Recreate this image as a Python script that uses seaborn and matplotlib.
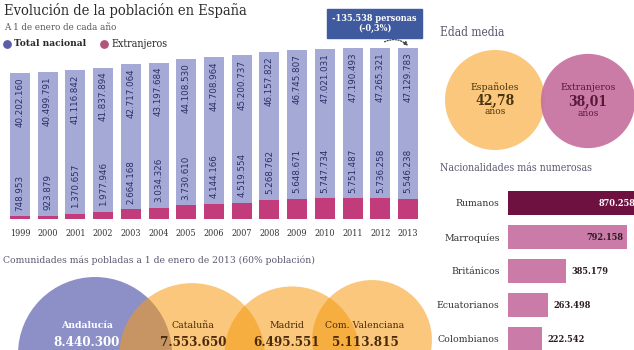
import matplotlib
matplotlib.use("Agg")
import matplotlib.pyplot as plt
import seaborn as sns
import pandas as pd
import numpy as np
from matplotlib.patches import Circle, Rectangle

# ---------------- data ----------------
years = ["1999", "2000", "2001", "2002", "2003", "2004", "2005", "2006",
         "2007", "2008", "2009", "2010", "2011", "2012", "2013"]
total_nacional = [40202160, 40499791, 41116842, 41837894, 42717064, 43197684,
                  44108530, 44708964, 45200737, 46157822, 46745807, 47021031,
                  47190493, 47265321, 47129783]
extranjeros = [748953, 923879, 1370657, 1977946, 2664168, 3034326, 3730610,
               4144166, 4519554, 5268762, 5648671, 5747734, 5751487, 5736258,
               5546238]

edad_grupos = ["Españoles", "Extranjeros"]
edad_media = [42.78, 38.01]

nacionalidades = ["Rumanos", "Marroquíes", "Británicos", "Ecuatorianos", "Colombianos"]
nac_valores = [870258, 792158, 385179, 263498, 222542]

comunidades = ["Andalucía", "Cataluña", "Madrid", "Com. Valenciana"]
com_poblacion = [8440300, 7553650, 6495551, 5113815]

anotacion = "-135.538 personas\n(-0,3%)"


def fmt(v):
    return f"{v:,.0f}".replace(",", ".")


def fmt2(v):
    return f"{v:.2f}".replace(".", ",")


# ---------------- style ----------------
sns.set_theme(style="white")
plt.rcParams["font.family"] = ["DejaVu Serif"]
plt.rcParams["font.stretch"] = "condensed"
SF = dict(family="DejaVu Serif", fontstretch="condensed")
W, H = 634, 350

C_TOTAL = "#a5a9d6"
C_EXT = "#c23c7b"
C_ORANGE = "#f69a11"
C_PURPLE = "#c671a0"
C_BLUE = "#8d90c7"

fig = plt.figure(figsize=(W / 100, H / 100), dpi=100)

# overlay axes in pixel coordinates
ov = fig.add_axes([0, 0, 1, 1])
ov.set_xlim(0, W)
ov.set_ylim(H, 0)
ov.axis("off")
ov.set_zorder(0)

# ---------------- main bar chart ----------------
px_per_M = 3.62
top_val = 50e6
ax_h = top_val / 1e6 * px_per_M
ax = fig.add_axes([6 / W, (H - 219) / H, 416 / W, ax_h / H])
ax.patch.set_alpha(0)
df = pd.DataFrame({"year": years, "total": total_nacional, "ext": extranjeros})
sns.barplot(data=df, x="year", y="total", color=C_TOTAL, saturation=1,
            width=0.72, ax=ax, linewidth=0)
sns.barplot(data=df, x="year", y="ext", color=C_EXT, saturation=1,
            width=0.72, ax=ax, linewidth=0)
ax.set_ylim(0, top_val)
ax.set_xlim(-0.5, len(years) - 0.5)
ax.set_xlabel("")
ax.set_ylabel("")
ax.set_yticks([])
for s in ax.spines.values():
    s.set_visible(False)
ax.tick_params(axis="x", length=0, pad=7, labelsize=6.5, colors="#333333")
for lab in ax.get_xticklabels():
    lab.set_family("DejaVu Serif")
    lab.set_fontstretch("condensed")

for i, (t, e) in enumerate(zip(total_nacional, extranjeros)):
    ax.annotate(fmt(t), (i, t), xytext=(0, -3), textcoords="offset points",
                rotation=90, ha="center", va="top", fontsize=6.3,
                color="#2b2f66", family="DejaVu Sans", fontstretch="normal")
    ax.annotate(fmt(e), (i, e), xytext=(0, 4), textcoords="offset points",
                rotation=90, ha="center", va="bottom", fontsize=6.3,
                color="#2b2f66", family="DejaVu Sans", fontstretch="normal")

# ---------------- titles and legend ----------------
ov.text(4, 10, "Evolución de la población en España", fontsize=10.5,
        color="#2a2a2a", va="center", ha="left", **SF)
ov.text(4, 28, "A 1 de enero de cada año", fontsize=7.0, color="#555555",
        va="center", ha="left", **SF)
ov.scatter([7], [44], s=28, color="#5a5fa6", zorder=3)
ov.text(14, 44, "Total nacional", fontsize=7.3, fontweight="bold",
        color="#2a2a2a", va="center", **SF)
ov.scatter([104], [44], s=28, color="#b0567a", zorder=3)
ov.text(112, 44, "Extranjeros", fontsize=7.7, color="#2a2a2a",
        va="center", **SF)

# annotation box
ov.add_patch(Rectangle((327, 9), 95, 29, color="#3f5a9f", zorder=3))
ov.text(374.5, 23.5, anotacion, color="white", fontsize=6.6, fontweight="bold",
        ha="center", va="center", zorder=4, linespacing=1.2, **SF)
ov.annotate("", xy=(410, 48), xytext=(382, 43),
            arrowprops=dict(arrowstyle="-|>", linestyle=(0, (1, 1.2)),
                            connectionstyle="arc3,rad=-0.4", color="#444444",
                            lw=0.9, mutation_scale=6), zorder=4)

# ---------------- edad media ----------------
ov.text(440, 32, "Edad media", fontsize=8.6, color="#5c5870", va="center", **SF)
r0 = 50
edad_pos = [(495, 100), (588, 101)]
edad_cols = [C_ORANGE, C_PURPLE]
edad_alpha = [0.55, 0.92]
edad_txt = ["#4a3210", "#5a1838"]
for (cx, cy), g, v, col, a, tc in zip(edad_pos, edad_grupos, edad_media,
                                       edad_cols, edad_alpha, edad_txt):
    r = r0 * np.sqrt(v / edad_media[0])
    ov.add_patch(Circle((cx, cy), r, color=col, alpha=a, lw=0, zorder=1))
    ov.text(cx, cy - 13, g, ha="center", va="center", fontsize=7.5,
            color=tc, zorder=2, **SF)
    ov.text(cx, cy, fmt2(v), ha="center", va="center", fontsize=10,
            fontweight="bold", color=tc, zorder=2, **SF)
    ov.text(cx, cy + 12, "años", ha="center", va="center", fontsize=7.2,
            color=tc, zorder=2, **SF)

# ---------------- nacionalidades ----------------
ov.text(440, 168, "Nacionalidades más numerosas", fontsize=7.6,
        color="#5c5870", va="center", **SF)
px_per_k = 0.1508
xmax = (W - 508) / px_per_k * 1000
axh = fig.add_axes([508 / W, (H - 356) / H, (W - 508) / W, 170 / H])
axh.patch.set_alpha(0)
dfn = pd.DataFrame({"nac": nacionalidades, "val": nac_valores})
pal = {n: ("#6e1040" if i == 0 else "#cb7ba7") for i, n in enumerate(nacionalidades)}
sns.barplot(data=dfn, y="nac", x="val", hue="nac", palette=pal, legend=False,
            saturation=1, width=0.735, orient="h", ax=axh, linewidth=0)
axh.set_xlim(0, xmax)
axh.set_ylim(len(nacionalidades) - 0.5, -0.5)
axh.set_xlabel("")
axh.set_ylabel("")
axh.set_xticks([])
for s in axh.spines.values():
    s.set_visible(False)
axh.tick_params(axis="y", length=0, pad=6, labelsize=7.5, colors="#333333")
for lab in axh.get_yticklabels():
    lab.set_family("DejaVu Serif")
    lab.set_fontstretch("condensed")
for i, v in enumerate(nac_valores):
    if i <= 1:
        axh.annotate(fmt(v), (v, i), xytext=(-3, 0), textcoords="offset points",
                     ha="right", va="center", fontsize=6.6, fontweight="bold",
                     color="white" if i == 0 else "#2a1a22",
                     annotation_clip=False, **SF)
    else:
        axh.annotate(fmt(v), (v, i), xytext=(4, 0), textcoords="offset points",
                     ha="left", va="center", fontsize=6.6, fontweight="bold",
                     color="#2a1a22", **SF)

# ---------------- comunidades ----------------
ov.text(3, 260, "Comunidades más pobladas a 1 de enero de 2013 (60% población)",
        fontsize=7.4, color="#5c5870", va="center", **SF)
r_and = 77
com_pos = [(95, 354), (192, 356), (292, 354), (372, 340)]
com_text_x = [87, 193, 287, 365]
com_cols = [C_BLUE, C_ORANGE, C_ORANGE, C_ORANGE]
com_alpha = [1.0, 0.55, 0.55, 0.55]
com_txt = ["white", "#4a2a0a", "#4a2a0a", "#4a2a0a"]
for (cx, cy), p, col, a in zip(com_pos, com_poblacion, com_cols, com_alpha):
    r = r_and * np.sqrt(p / com_poblacion[0])
    ov.add_patch(Circle((cx, cy), r, color=col, alpha=a, lw=0, zorder=1))
for tx, n, p, tc in zip(com_text_x, comunidades, com_poblacion, com_txt):
    ov.text(tx, 326, n, ha="center", va="center", fontsize=7.5,
            fontweight="bold" if n == "Andalucía" else "normal",
            color=tc, zorder=2, **SF)
    ov.text(tx, 342, fmt(p), ha="center", va="center", fontsize=9.5,
            fontweight="bold", color=tc, zorder=2, **SF)

fig.savefig("out.png", dpi=100)
